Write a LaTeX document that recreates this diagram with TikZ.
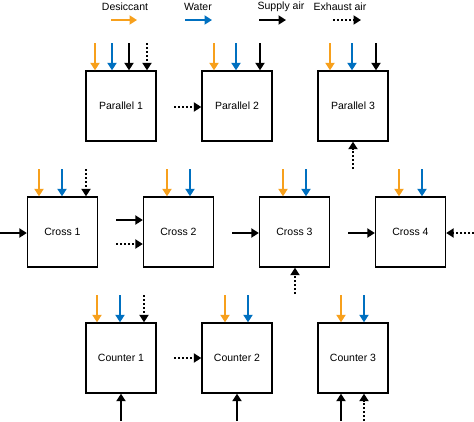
\documentclass[tikz,border=0pt]{standalone}
\usepackage{fontspec}
\setmainfont{Liberation Sans}
\usetikzlibrary{arrows.meta, positioning, calc}
\definecolor{orng}{RGB}{247,160,28}
\definecolor{blu}{RGB}{0,112,192}

\begin{document}
\begin{tikzpicture}[x=1pt, y=-1pt, node distance=116pt, font=\fontsize{10.5}{12}\selectfont,
    box/.style={rectangle, draw, line width=1.3pt, minimum width=70pt, minimum height=70pt, inner sep=0pt},
    flow/.style={line width=1.9pt, -{Triangle[length=7.5pt,width=9pt]}},
    des/.style={flow, orng},
    wat/.style={flow, blu},
    sup/.style={flow, black},
    exh/.style={flow, black, dash pattern=on 2pt off 2pt}]
        \useasboundingbox (0,0) rectangle (474,421);

         %legend
        \node (tdes) at (125,7) {Desiccant};
        \node (twat) at (198,7) {Water};
        \node (tsup) at (281,7) {Supply air};
        \node (texh) at (340,7) {Exhaust air};
        \coordinate (ldes0) at (111,20); \coordinate (ldes1) at (137,20);
        \coordinate (lwat0) at (185,20); \coordinate (lwat1) at (212,20);
        \coordinate (lsup0) at (259,20); \coordinate (lsup1) at (286,20);
        \coordinate (lexh0) at (333,20); \coordinate (lexh1) at (361,20);
        \draw[des] (ldes0) -- (ldes1);
        \draw[wat] (lwat0) -- (lwat1);
        \draw[sup] (lsup0) -- (lsup1);
        \draw[exh] (lexh0) -- (lexh1);

         %boxes
        \node[box] (P1) at (121,106) {Parallel 1};
        \node[box, right of=P1] (P2) {Parallel 2};
        \node[box, right of=P2] (P3) {Parallel 3};

        \node[box] (C1) at (62.5,232) {Cross 1};
        \node[box, right of=C1] (C2) {Cross 2};
        \node[box, right of=C2] (C3) {Cross 3};
        \node[box, right of=C3] (C4) {Cross 4};

        \node[box] (K1) at (121,358) {Counter 1};
        \node[box, right of=K1] (K2) {Counter 2};
        \node[box, right of=K2] (K3) {Counter 3};

         %free ends
        \coordinate (p1d) at (95,43);  \coordinate (p1w) at (112,43);
        \coordinate (p1s) at (129,43); \coordinate (p1e) at (147,43);
        \coordinate (p2d) at (214,43); \coordinate (p2w) at (236,43);
        \coordinate (p2s) at (260,43); \coordinate (p2e) at (174,107);
        \coordinate (p3d) at (330,43); \coordinate (p3w) at (352,43);
        \coordinate (p3s) at (376,43); \coordinate (p3e) at (353,169);

        \coordinate (c1d) at (39,169);  \coordinate (c1w) at (62,169);
        \coordinate (c1e) at (86,169);  \coordinate (c1s) at (0,233);
        \coordinate (c2d) at (167,169); \coordinate (c2w) at (190,169);
        \coordinate (c2s) at (116,220); \coordinate (c2e) at (116,244);
        \coordinate (c3d) at (283,169); \coordinate (c3w) at (306,169);
        \coordinate (c3s) at (232,233); \coordinate (c3e) at (295,294);
        \coordinate (c4d) at (399,169); \coordinate (c4w) at (422,169);
        \coordinate (c4s) at (348,233); \coordinate (c4e) at (474,233);

        \coordinate (k1d) at (97,295);  \coordinate (k1w) at (120,295);
        \coordinate (k1e) at (144,295); \coordinate (k1s) at (121,421);
        \coordinate (k2d) at (225,295); \coordinate (k2w) at (248,295);
        \coordinate (k2e) at (174,358); \coordinate (k2s) at (237,421);
        \coordinate (k3d) at (341,295); \coordinate (k3w) at (364,295);
        \coordinate (k3s) at (341,421); \coordinate (k3e) at (364,421);

         %parallel
        \draw[des] (p1d) -- (p1d |- P1.north);
        \draw[wat] (p1w) -- (p1w |- P1.north);
        \draw[sup] (p1s) -- (p1s |- P1.north);
        \draw[exh] (p1e) -- (p1e |- P1.north);

        \draw[des] (p2d) -- (p2d |- P2.north);
        \draw[wat] (p2w) -- (p2w |- P2.north);
        \draw[sup] (p2s) -- (p2s |- P2.north);
        \draw[exh] (p2e) -- (p2e -| P2.west);

        \draw[des] (p3d) -- (p3d |- P3.north);
        \draw[wat] (p3w) -- (p3w |- P3.north);
        \draw[sup] (p3s) -- (p3s |- P3.north);
        \draw[exh] (p3e) -- (p3e |- P3.south);

         %cross
        \draw[des] (c1d) -- (c1d |- C1.north);
        \draw[wat] (c1w) -- (c1w |- C1.north);
        \draw[exh] (c1e) -- (c1e |- C1.north);
        \draw[sup] (c1s) -- (c1s -| C1.west);

        \draw[des] (c2d) -- (c2d |- C2.north);
        \draw[wat] (c2w) -- (c2w |- C2.north);
        \draw[sup] (c2s) -- (c2s -| C2.west);
        \draw[exh] (c2e) -- (c2e -| C2.west);

        \draw[des] (c3d) -- (c3d |- C3.north);
        \draw[wat] (c3w) -- (c3w |- C3.north);
        \draw[sup] (c3s) -- (c3s -| C3.west);
        \draw[exh] (c3e) -- (c3e |- C3.south);

        \draw[des] (c4d) -- (c4d |- C4.north);
        \draw[wat] (c4w) -- (c4w |- C4.north);
        \draw[sup] (c4s) -- (c4s -| C4.west);
        \draw[exh] (c4e) -- (c4e -| C4.east);

         %counter
        \draw[des] (k1d) -- (k1d |- K1.north);
        \draw[wat] (k1w) -- (k1w |- K1.north);
        \draw[exh] (k1e) -- (k1e |- K1.north);
        \draw[sup] (k1s) -- (k1s |- K1.south);

        \draw[des] (k2d) -- (k2d |- K2.north);
        \draw[wat] (k2w) -- (k2w |- K2.north);
        \draw[exh] (k2e) -- (k2e -| K2.west);
        \draw[sup] (k2s) -- (k2s |- K2.south);

        \draw[des] (k3d) -- (k3d |- K3.north);
        \draw[wat] (k3w) -- (k3w |- K3.north);
        \draw[sup] (k3s) -- (k3s |- K3.south);
        \draw[exh] (k3e) -- (k3e |- K3.south);
\end{tikzpicture}
\end{document}
